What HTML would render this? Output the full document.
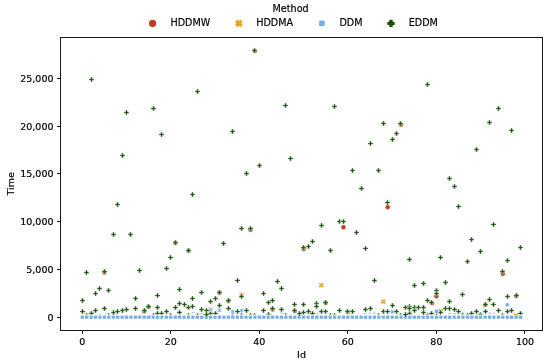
<!DOCTYPE html>
<html lang="en">
<head>
<meta charset="utf-8">
<title>Method scatter plot</title>
<style>
html,body{margin:0;padding:0;background:#fff;}
body{width:550px;height:363px;overflow:hidden;}
svg{display:block;}
svg text{font-family:"DejaVu Sans","Liberation Sans",sans-serif;font-size:9.5px;fill:#000;stroke:#000;stroke-width:0.18px;}
</style>
</head>
<body>
<svg width="550" height="363" viewBox="0 0 550 363">
<rect width="550" height="363" fill="#fff"/>
<g id="markers">
<g id="hddmw"><circle cx="104.38" cy="272.6" r="2.45" fill="#c03d1e" stroke="#fff" stroke-width="0.42"/><circle cx="144.23" cy="311.4" r="2.45" fill="#c03d1e" stroke="#fff" stroke-width="0.42"/><circle cx="148.66" cy="306.9" r="2.45" fill="#c03d1e" stroke="#fff" stroke-width="0.42"/><circle cx="175.22" cy="243.1" r="2.45" fill="#c03d1e" stroke="#fff" stroke-width="0.42"/><circle cx="188.5" cy="250.9" r="2.45" fill="#c03d1e" stroke="#fff" stroke-width="0.42"/><circle cx="219.49" cy="292.8" r="2.45" fill="#c03d1e" stroke="#fff" stroke-width="0.42"/><circle cx="228.34" cy="301.1" r="2.45" fill="#c03d1e" stroke="#fff" stroke-width="0.42"/><circle cx="250.48" cy="229.9" r="2.45" fill="#c03d1e" stroke="#fff" stroke-width="0.42"/><circle cx="254.9" cy="51.1" r="2.45" fill="#c03d1e" stroke="#fff" stroke-width="0.42"/><circle cx="272.61" cy="309.6" r="2.45" fill="#c03d1e" stroke="#fff" stroke-width="0.42"/><circle cx="294.75" cy="311.1" r="2.45" fill="#c03d1e" stroke="#fff" stroke-width="0.42"/><circle cx="303.6" cy="249" r="2.45" fill="#c03d1e" stroke="#fff" stroke-width="0.42"/><circle cx="325.74" cy="303" r="2.45" fill="#c03d1e" stroke="#fff" stroke-width="0.42"/><circle cx="343.44" cy="227.3" r="2.45" fill="#c03d1e" stroke="#fff" stroke-width="0.42"/><circle cx="387.71" cy="207.2" r="2.45" fill="#c03d1e" stroke="#fff" stroke-width="0.42"/><circle cx="400.99" cy="124.7" r="2.45" fill="#c03d1e" stroke="#fff" stroke-width="0.42"/><circle cx="431.98" cy="303.2" r="2.45" fill="#c03d1e" stroke="#fff" stroke-width="0.42"/><circle cx="436.41" cy="296.3" r="2.45" fill="#c03d1e" stroke="#fff" stroke-width="0.42"/><circle cx="485.11" cy="304.9" r="2.45" fill="#c03d1e" stroke="#fff" stroke-width="0.42"/><circle cx="502.81" cy="273.8" r="2.45" fill="#c03d1e" stroke="#fff" stroke-width="0.42"/><circle cx="516.1" cy="296.1" r="2.45" fill="#c03d1e" stroke="#fff" stroke-width="0.42"/></g>
<g id="hddma"><path d="M209.28 306.7 L210.63 308.05 L211.98 306.7 L213.33 308.05 L211.98 309.4 L213.33 310.75 L211.98 312.1 L210.63 310.75 L209.28 312.1 L207.93 310.75 L209.28 309.4 L207.93 308.05Z" fill="#e1a532" stroke="#fff" stroke-width="0.42"/><path d="M240.27 292.5 L241.62 293.85 L242.97 292.5 L244.32 293.85 L242.97 295.2 L244.32 296.55 L242.97 297.9 L241.62 296.55 L240.27 297.9 L238.92 296.55 L240.27 295.2 L238.92 293.85Z" fill="#e1a532" stroke="#fff" stroke-width="0.42"/><path d="M319.96 282.6 L321.31 283.95 L322.66 282.6 L324.01 283.95 L322.66 285.3 L324.01 286.65 L322.66 288 L321.31 286.65 L319.96 288 L318.61 286.65 L319.96 285.3 L318.61 283.95Z" fill="#e1a532" stroke="#fff" stroke-width="0.42"/><path d="M346.52 309.3 L347.87 310.65 L349.22 309.3 L350.57 310.65 L349.22 312 L350.57 313.35 L349.22 314.7 L347.87 313.35 L346.52 314.7 L345.17 313.35 L346.52 312 L345.17 310.65Z" fill="#e1a532" stroke="#fff" stroke-width="0.42"/><path d="M381.94 299 L383.29 300.35 L384.64 299 L385.99 300.35 L384.64 301.7 L385.99 303.05 L384.64 304.4 L383.29 303.05 L381.94 304.4 L380.59 303.05 L381.94 301.7 L380.59 300.35Z" fill="#e1a532" stroke="#fff" stroke-width="0.42"/><path d="M439.49 308.5 L440.84 309.85 L442.19 308.5 L443.54 309.85 L442.19 311.2 L443.54 312.55 L442.19 313.9 L440.84 312.55 L439.49 313.9 L438.14 312.55 L439.49 311.2 L438.14 309.85Z" fill="#e1a532" stroke="#fff" stroke-width="0.42"/><path d="M514.75 312.7 L516.1 314.05 L517.45 312.7 L518.8 314.05 L517.45 315.4 L518.8 316.75 L517.45 318.1 L516.1 316.75 L514.75 318.1 L513.4 316.75 L514.75 315.4 L513.4 314.05Z" fill="#e1a532" stroke="#fff" stroke-width="0.42"/></g>
<clipPath id="cp"><rect x="0" y="0" width="550" height="314.4"/></clipPath>
<g id="eddm-a" clip-path="url(#cp)"><path d="M85.67 313 L87.33 313 L87.33 314.67 L89 314.67 L89 316.33 L87.33 316.33 L87.33 318 L85.67 318 L85.67 316.33 L84 316.33 L84 314.67 L85.67 314.67Z" fill="#145208" stroke="#fff" stroke-width="0.42"/><path d="M90.67 311 L92.33 311 L92.33 312.67 L94 312.67 L94 314.33 L92.33 314.33 L92.33 316 L90.67 316 L90.67 314.33 L89 314.33 L89 312.67 L90.67 312.67Z" fill="#145208" stroke="#fff" stroke-width="0.42"/><path d="M98.67 314 L100.33 314 L100.33 315.67 L102 315.67 L102 317.33 L100.33 317.33 L100.33 319 L98.67 319 L98.67 317.33 L97 317.33 L97 315.67 L98.67 315.67Z" fill="#145208" stroke="#fff" stroke-width="0.42"/><path d="M107.67 313 L109.33 313 L109.33 314.67 L111 314.67 L111 316.33 L109.33 316.33 L109.33 318 L107.67 318 L107.67 316.33 L106 316.33 L106 314.67 L107.67 314.67Z" fill="#145208" stroke="#fff" stroke-width="0.42"/><path d="M152.67 313 L154.33 313 L154.33 314.67 L156 314.67 L156 316.33 L154.33 316.33 L154.33 318 L152.67 318 L152.67 316.33 L151 316.33 L151 314.67 L152.67 314.67Z" fill="#145208" stroke="#fff" stroke-width="0.42"/><path d="M156.67 311 L158.33 311 L158.33 312.67 L160 312.67 L160 314.33 L158.33 314.33 L158.33 316 L156.67 316 L156.67 314.33 L155 314.33 L155 312.67 L156.67 312.67Z" fill="#145208" stroke="#fff" stroke-width="0.42"/><path d="M160.67 311 L162.33 311 L162.33 312.67 L164 312.67 L164 314.33 L162.33 314.33 L162.33 316 L160.67 316 L160.67 314.33 L159 314.33 L159 312.67 L160.67 312.67Z" fill="#145208" stroke="#fff" stroke-width="0.42"/><path d="M169.67 313 L171.33 313 L171.33 314.67 L173 314.67 L173 316.33 L171.33 316.33 L171.33 318 L169.67 318 L169.67 316.33 L168 316.33 L168 314.67 L169.67 314.67Z" fill="#145208" stroke="#fff" stroke-width="0.42"/><path d="M178.67 310 L180.33 310 L180.33 311.67 L182 311.67 L182 313.33 L180.33 313.33 L180.33 315 L178.67 315 L178.67 313.33 L177 313.33 L177 311.67 L178.67 311.67Z" fill="#145208" stroke="#fff" stroke-width="0.42"/><path d="M187.67 313 L189.33 313 L189.33 314.67 L191 314.67 L191 316.33 L189.33 316.33 L189.33 318 L187.67 318 L187.67 316.33 L186 316.33 L186 314.67 L187.67 314.67Z" fill="#145208" stroke="#fff" stroke-width="0.42"/><path d="M196.67 313 L198.33 313 L198.33 314.67 L200 314.67 L200 316.33 L198.33 316.33 L198.33 318 L196.67 318 L196.67 316.33 L195 316.33 L195 314.67 L196.67 314.67Z" fill="#145208" stroke="#fff" stroke-width="0.42"/><path d="M209.67 311 L211.33 311 L211.33 312.67 L213 312.67 L213 314.33 L211.33 314.33 L211.33 316 L209.67 316 L209.67 314.33 L208 314.33 L208 312.67 L209.67 312.67Z" fill="#145208" stroke="#fff" stroke-width="0.42"/><path d="M214.67 311 L216.33 311 L216.33 312.67 L218 312.67 L218 314.33 L216.33 314.33 L216.33 316 L214.67 316 L214.67 314.33 L213 314.33 L213 312.67 L214.67 312.67Z" fill="#145208" stroke="#fff" stroke-width="0.42"/><path d="M231.67 313 L233.33 313 L233.33 314.67 L235 314.67 L235 316.33 L233.33 316.33 L233.33 318 L231.67 318 L231.67 316.33 L230 316.33 L230 314.67 L231.67 314.67Z" fill="#145208" stroke="#fff" stroke-width="0.42"/><path d="M240.67 313 L242.33 313 L242.33 314.67 L244 314.67 L244 316.33 L242.33 316.33 L242.33 318 L240.67 318 L240.67 316.33 L239 316.33 L239 314.67 L240.67 314.67Z" fill="#145208" stroke="#fff" stroke-width="0.42"/><path d="M249.67 313 L251.33 313 L251.33 314.67 L253 314.67 L253 316.33 L251.33 316.33 L251.33 318 L249.67 318 L249.67 316.33 L248 316.33 L248 314.67 L249.67 314.67Z" fill="#145208" stroke="#fff" stroke-width="0.42"/><path d="M253.67 313 L255.33 313 L255.33 314.67 L257 314.67 L257 316.33 L255.33 316.33 L255.33 318 L253.67 318 L253.67 316.33 L252 316.33 L252 314.67 L253.67 314.67Z" fill="#145208" stroke="#fff" stroke-width="0.42"/><path d="M267.67 312 L269.33 312 L269.33 313.67 L271 313.67 L271 315.33 L269.33 315.33 L269.33 317 L267.67 317 L267.67 315.33 L266 315.33 L266 313.67 L267.67 313.67Z" fill="#145208" stroke="#fff" stroke-width="0.42"/><path d="M284.67 313 L286.33 313 L286.33 314.67 L288 314.67 L288 316.33 L286.33 316.33 L286.33 318 L284.67 318 L284.67 316.33 L283 316.33 L283 314.67 L284.67 314.67Z" fill="#145208" stroke="#fff" stroke-width="0.42"/><path d="M302.67 310 L304.33 310 L304.33 311.67 L306 311.67 L306 313.33 L304.33 313.33 L304.33 315 L302.67 315 L302.67 313.33 L301 313.33 L301 311.67 L302.67 311.67Z" fill="#145208" stroke="#fff" stroke-width="0.42"/><path d="M311.67 311 L313.33 311 L313.33 312.67 L315 312.67 L315 314.33 L313.33 314.33 L313.33 316 L311.67 316 L311.67 314.33 L310 314.33 L310 312.67 L311.67 312.67Z" fill="#145208" stroke="#fff" stroke-width="0.42"/><path d="M329.67 313 L331.33 313 L331.33 314.67 L333 314.67 L333 316.33 L331.33 316.33 L331.33 318 L329.67 318 L329.67 316.33 L328 316.33 L328 314.67 L329.67 314.67Z" fill="#145208" stroke="#fff" stroke-width="0.42"/><path d="M333.67 313 L335.33 313 L335.33 314.67 L337 314.67 L337 316.33 L335.33 316.33 L335.33 318 L333.67 318 L333.67 316.33 L332 316.33 L332 314.67 L333.67 314.67Z" fill="#145208" stroke="#fff" stroke-width="0.42"/><path d="M377.67 313 L379.33 313 L379.33 314.67 L381 314.67 L381 316.33 L379.33 316.33 L379.33 318 L377.67 318 L377.67 316.33 L376 316.33 L376 314.67 L377.67 314.67Z" fill="#145208" stroke="#fff" stroke-width="0.42"/><path d="M399.67 313 L401.33 313 L401.33 314.67 L403 314.67 L403 316.33 L401.33 316.33 L401.33 318 L399.67 318 L399.67 316.33 L398 316.33 L398 314.67 L399.67 314.67Z" fill="#145208" stroke="#fff" stroke-width="0.42"/><path d="M408.67 311 L410.33 311 L410.33 312.67 L412 312.67 L412 314.33 L410.33 314.33 L410.33 316 L408.67 316 L408.67 314.33 L407 314.33 L407 312.67 L408.67 312.67Z" fill="#145208" stroke="#fff" stroke-width="0.42"/><path d="M426.67 313 L428.33 313 L428.33 314.67 L430 314.67 L430 316.33 L428.33 316.33 L428.33 318 L426.67 318 L426.67 316.33 L425 316.33 L425 314.67 L426.67 314.67Z" fill="#145208" stroke="#fff" stroke-width="0.42"/><path d="M430.67 311 L432.33 311 L432.33 312.67 L434 312.67 L434 314.33 L432.33 314.33 L432.33 316 L430.67 316 L430.67 314.33 L429 314.33 L429 312.67 L430.67 312.67Z" fill="#145208" stroke="#fff" stroke-width="0.42"/><path d="M435.67 313 L437.33 313 L437.33 314.67 L439 314.67 L439 316.33 L437.33 316.33 L437.33 318 L435.67 318 L435.67 316.33 L434 316.33 L434 314.67 L435.67 314.67Z" fill="#145208" stroke="#fff" stroke-width="0.42"/><path d="M439.67 310 L441.33 310 L441.33 311.67 L443 311.67 L443 313.33 L441.33 313.33 L441.33 315 L439.67 315 L439.67 313.33 L438 313.33 L438 311.67 L439.67 311.67Z" fill="#145208" stroke="#fff" stroke-width="0.42"/><path d="M461.67 313 L463.33 313 L463.33 314.67 L465 314.67 L465 316.33 L463.33 316.33 L463.33 318 L461.67 318 L461.67 316.33 L460 316.33 L460 314.67 L461.67 314.67Z" fill="#145208" stroke="#fff" stroke-width="0.42"/><path d="M466.67 313 L468.33 313 L468.33 314.67 L470 314.67 L470 316.33 L468.33 316.33 L468.33 318 L466.67 318 L466.67 316.33 L465 316.33 L465 314.67 L466.67 314.67Z" fill="#145208" stroke="#fff" stroke-width="0.42"/><path d="M470.67 311 L472.33 311 L472.33 312.67 L474 312.67 L474 314.33 L472.33 314.33 L472.33 316 L470.67 316 L470.67 314.33 L469 314.33 L469 312.67 L470.67 312.67Z" fill="#145208" stroke="#fff" stroke-width="0.42"/><path d="M479.67 312 L481.33 312 L481.33 313.67 L483 313.67 L483 315.33 L481.33 315.33 L481.33 317 L479.67 317 L479.67 315.33 L478 315.33 L478 313.67 L479.67 313.67Z" fill="#145208" stroke="#fff" stroke-width="0.42"/><path d="M501.67 313 L503.33 313 L503.33 314.67 L505 314.67 L505 316.33 L503.33 316.33 L503.33 318 L501.67 318 L501.67 316.33 L500 316.33 L500 314.67 L501.67 314.67Z" fill="#145208" stroke="#fff" stroke-width="0.42"/><path d="M519.67 311 L521.33 311 L521.33 312.67 L523 312.67 L523 314.33 L521.33 314.33 L521.33 316 L519.67 316 L519.67 314.33 L518 314.33 L518 312.67 L519.67 312.67Z" fill="#145208" stroke="#fff" stroke-width="0.42"/></g>
<g id="ddm-a"><rect x="230.92" y="309.65" width="3.7" height="3.7" fill="#8fbbea" stroke="#fff" stroke-width="0.42"/></g>
<g id="ddm-c" fill="#a6c9ee"><rect x="191.42" y="311.95" width="3" height="1.1"/><rect x="200.28" y="312.85" width="3" height="1.1"/><rect x="279.96" y="312.45" width="3" height="1.1"/><rect x="315.38" y="312.75" width="3" height="1.1"/><rect x="364.08" y="312.95" width="3" height="1.1"/><rect x="368.5" y="312.65" width="3" height="1.1"/><rect x="372.93" y="312.65" width="3" height="1.1"/><rect x="448.19" y="312.95" width="3" height="1.1"/><rect x="452.62" y="312.95" width="3" height="1.1"/><rect x="461.47" y="311.65" width="3" height="1.1"/><rect x="479.18" y="312.45" width="3" height="1.1"/><rect x="488.03" y="312.65" width="3" height="1.1"/><rect x="492.46" y="312.75" width="3" height="1.1"/></g>
<g id="ddm"><rect x="80.4" y="315.3" width="3.7" height="3.7" fill="#76ade5" stroke="#fff" stroke-width="0.42"/><rect x="84.83" y="315.3" width="3.7" height="3.7" fill="#76ade5" stroke="#fff" stroke-width="0.42"/><rect x="89.25" y="315.3" width="3.7" height="3.7" fill="#76ade5" stroke="#fff" stroke-width="0.42"/><rect x="93.68" y="315.3" width="3.7" height="3.7" fill="#76ade5" stroke="#fff" stroke-width="0.42"/><rect x="98.11" y="315.3" width="3.7" height="3.7" fill="#76ade5" stroke="#fff" stroke-width="0.42"/><rect x="102.53" y="315.3" width="3.7" height="3.7" fill="#76ade5" stroke="#fff" stroke-width="0.42"/><rect x="106.96" y="315.3" width="3.7" height="3.7" fill="#76ade5" stroke="#fff" stroke-width="0.42"/><rect x="111.39" y="315.3" width="3.7" height="3.7" fill="#76ade5" stroke="#fff" stroke-width="0.42"/><rect x="115.82" y="315.3" width="3.7" height="3.7" fill="#76ade5" stroke="#fff" stroke-width="0.42"/><rect x="120.24" y="315.3" width="3.7" height="3.7" fill="#76ade5" stroke="#fff" stroke-width="0.42"/><rect x="124.67" y="315.3" width="3.7" height="3.7" fill="#76ade5" stroke="#fff" stroke-width="0.42"/><rect x="129.1" y="315.3" width="3.7" height="3.7" fill="#76ade5" stroke="#fff" stroke-width="0.42"/><rect x="133.52" y="315.3" width="3.7" height="3.7" fill="#76ade5" stroke="#fff" stroke-width="0.42"/><rect x="137.95" y="315.3" width="3.7" height="3.7" fill="#76ade5" stroke="#fff" stroke-width="0.42"/><rect x="142.38" y="315.3" width="3.7" height="3.7" fill="#76ade5" stroke="#fff" stroke-width="0.42"/><rect x="146.81" y="315.3" width="3.7" height="3.7" fill="#76ade5" stroke="#fff" stroke-width="0.42"/><rect x="151.23" y="315.3" width="3.7" height="3.7" fill="#76ade5" stroke="#fff" stroke-width="0.42"/><rect x="155.66" y="315.3" width="3.7" height="3.7" fill="#76ade5" stroke="#fff" stroke-width="0.42"/><rect x="160.09" y="315.3" width="3.7" height="3.7" fill="#76ade5" stroke="#fff" stroke-width="0.42"/><rect x="164.51" y="315.3" width="3.7" height="3.7" fill="#76ade5" stroke="#fff" stroke-width="0.42"/><rect x="168.94" y="315.3" width="3.7" height="3.7" fill="#76ade5" stroke="#fff" stroke-width="0.42"/><rect x="173.37" y="315.3" width="3.7" height="3.7" fill="#76ade5" stroke="#fff" stroke-width="0.42"/><rect x="177.79" y="315.3" width="3.7" height="3.7" fill="#76ade5" stroke="#fff" stroke-width="0.42"/><rect x="182.22" y="315.3" width="3.7" height="3.7" fill="#76ade5" stroke="#fff" stroke-width="0.42"/><rect x="186.65" y="315.3" width="3.7" height="3.7" fill="#76ade5" stroke="#fff" stroke-width="0.42"/><rect x="191.07" y="315.3" width="3.7" height="3.7" fill="#76ade5" stroke="#fff" stroke-width="0.42"/><rect x="195.5" y="315.3" width="3.7" height="3.7" fill="#76ade5" stroke="#fff" stroke-width="0.42"/><rect x="199.93" y="315.3" width="3.7" height="3.7" fill="#76ade5" stroke="#fff" stroke-width="0.42"/><rect x="204.36" y="315.3" width="3.7" height="3.7" fill="#76ade5" stroke="#fff" stroke-width="0.42"/><rect x="208.78" y="315.3" width="3.7" height="3.7" fill="#76ade5" stroke="#fff" stroke-width="0.42"/><rect x="213.21" y="315.3" width="3.7" height="3.7" fill="#76ade5" stroke="#fff" stroke-width="0.42"/><rect x="217.64" y="315.3" width="3.7" height="3.7" fill="#76ade5" stroke="#fff" stroke-width="0.42"/><rect x="222.06" y="315.3" width="3.7" height="3.7" fill="#76ade5" stroke="#fff" stroke-width="0.42"/><rect x="226.49" y="315.3" width="3.7" height="3.7" fill="#76ade5" stroke="#fff" stroke-width="0.42"/><rect x="230.92" y="315.3" width="3.7" height="3.7" fill="#76ade5" stroke="#fff" stroke-width="0.42"/><rect x="235.34" y="315.3" width="3.7" height="3.7" fill="#76ade5" stroke="#fff" stroke-width="0.42"/><rect x="239.77" y="315.3" width="3.7" height="3.7" fill="#76ade5" stroke="#fff" stroke-width="0.42"/><rect x="244.2" y="315.3" width="3.7" height="3.7" fill="#76ade5" stroke="#fff" stroke-width="0.42"/><rect x="248.63" y="315.3" width="3.7" height="3.7" fill="#76ade5" stroke="#fff" stroke-width="0.42"/><rect x="253.05" y="315.3" width="3.7" height="3.7" fill="#76ade5" stroke="#fff" stroke-width="0.42"/><rect x="257.48" y="315.3" width="3.7" height="3.7" fill="#76ade5" stroke="#fff" stroke-width="0.42"/><rect x="261.91" y="315.3" width="3.7" height="3.7" fill="#76ade5" stroke="#fff" stroke-width="0.42"/><rect x="266.33" y="315.3" width="3.7" height="3.7" fill="#76ade5" stroke="#fff" stroke-width="0.42"/><rect x="270.76" y="315.3" width="3.7" height="3.7" fill="#76ade5" stroke="#fff" stroke-width="0.42"/><rect x="275.19" y="315.3" width="3.7" height="3.7" fill="#76ade5" stroke="#fff" stroke-width="0.42"/><rect x="279.61" y="315.3" width="3.7" height="3.7" fill="#76ade5" stroke="#fff" stroke-width="0.42"/><rect x="284.04" y="315.3" width="3.7" height="3.7" fill="#76ade5" stroke="#fff" stroke-width="0.42"/><rect x="288.47" y="315.3" width="3.7" height="3.7" fill="#76ade5" stroke="#fff" stroke-width="0.42"/><rect x="292.9" y="315.3" width="3.7" height="3.7" fill="#76ade5" stroke="#fff" stroke-width="0.42"/><rect x="297.32" y="315.3" width="3.7" height="3.7" fill="#76ade5" stroke="#fff" stroke-width="0.42"/><rect x="301.75" y="315.3" width="3.7" height="3.7" fill="#76ade5" stroke="#fff" stroke-width="0.42"/><rect x="306.18" y="315.3" width="3.7" height="3.7" fill="#76ade5" stroke="#fff" stroke-width="0.42"/><rect x="310.6" y="315.3" width="3.7" height="3.7" fill="#76ade5" stroke="#fff" stroke-width="0.42"/><rect x="315.03" y="315.3" width="3.7" height="3.7" fill="#76ade5" stroke="#fff" stroke-width="0.42"/><rect x="319.46" y="315.3" width="3.7" height="3.7" fill="#76ade5" stroke="#fff" stroke-width="0.42"/><rect x="323.88" y="315.3" width="3.7" height="3.7" fill="#76ade5" stroke="#fff" stroke-width="0.42"/><rect x="328.31" y="315.3" width="3.7" height="3.7" fill="#76ade5" stroke="#fff" stroke-width="0.42"/><rect x="332.74" y="315.3" width="3.7" height="3.7" fill="#76ade5" stroke="#fff" stroke-width="0.42"/><rect x="337.17" y="315.3" width="3.7" height="3.7" fill="#76ade5" stroke="#fff" stroke-width="0.42"/><rect x="341.59" y="315.3" width="3.7" height="3.7" fill="#76ade5" stroke="#fff" stroke-width="0.42"/><rect x="346.02" y="315.3" width="3.7" height="3.7" fill="#76ade5" stroke="#fff" stroke-width="0.42"/><rect x="350.45" y="315.3" width="3.7" height="3.7" fill="#76ade5" stroke="#fff" stroke-width="0.42"/><rect x="354.87" y="315.3" width="3.7" height="3.7" fill="#76ade5" stroke="#fff" stroke-width="0.42"/><rect x="359.3" y="315.3" width="3.7" height="3.7" fill="#76ade5" stroke="#fff" stroke-width="0.42"/><rect x="363.73" y="315.3" width="3.7" height="3.7" fill="#76ade5" stroke="#fff" stroke-width="0.42"/><rect x="368.15" y="315.3" width="3.7" height="3.7" fill="#76ade5" stroke="#fff" stroke-width="0.42"/><rect x="372.58" y="315.3" width="3.7" height="3.7" fill="#76ade5" stroke="#fff" stroke-width="0.42"/><rect x="377.01" y="315.3" width="3.7" height="3.7" fill="#76ade5" stroke="#fff" stroke-width="0.42"/><rect x="381.44" y="315.3" width="3.7" height="3.7" fill="#76ade5" stroke="#fff" stroke-width="0.42"/><rect x="385.86" y="315.3" width="3.7" height="3.7" fill="#76ade5" stroke="#fff" stroke-width="0.42"/><rect x="390.29" y="315.3" width="3.7" height="3.7" fill="#76ade5" stroke="#fff" stroke-width="0.42"/><rect x="394.72" y="315.3" width="3.7" height="3.7" fill="#76ade5" stroke="#fff" stroke-width="0.42"/><rect x="399.14" y="315.3" width="3.7" height="3.7" fill="#76ade5" stroke="#fff" stroke-width="0.42"/><rect x="403.57" y="315.3" width="3.7" height="3.7" fill="#76ade5" stroke="#fff" stroke-width="0.42"/><rect x="408" y="315.3" width="3.7" height="3.7" fill="#76ade5" stroke="#fff" stroke-width="0.42"/><rect x="412.42" y="315.3" width="3.7" height="3.7" fill="#76ade5" stroke="#fff" stroke-width="0.42"/><rect x="416.85" y="315.3" width="3.7" height="3.7" fill="#76ade5" stroke="#fff" stroke-width="0.42"/><rect x="421.28" y="315.3" width="3.7" height="3.7" fill="#76ade5" stroke="#fff" stroke-width="0.42"/><rect x="425.71" y="315.3" width="3.7" height="3.7" fill="#76ade5" stroke="#fff" stroke-width="0.42"/><rect x="430.13" y="315.3" width="3.7" height="3.7" fill="#76ade5" stroke="#fff" stroke-width="0.42"/><rect x="434.56" y="315.3" width="3.7" height="3.7" fill="#76ade5" stroke="#fff" stroke-width="0.42"/><rect x="438.99" y="315.3" width="3.7" height="3.7" fill="#76ade5" stroke="#fff" stroke-width="0.42"/><rect x="443.41" y="315.3" width="3.7" height="3.7" fill="#76ade5" stroke="#fff" stroke-width="0.42"/><rect x="447.84" y="315.3" width="3.7" height="3.7" fill="#76ade5" stroke="#fff" stroke-width="0.42"/><rect x="452.27" y="315.3" width="3.7" height="3.7" fill="#76ade5" stroke="#fff" stroke-width="0.42"/><rect x="456.69" y="315.3" width="3.7" height="3.7" fill="#76ade5" stroke="#fff" stroke-width="0.42"/><rect x="461.12" y="315.3" width="3.7" height="3.7" fill="#76ade5" stroke="#fff" stroke-width="0.42"/><rect x="465.55" y="315.3" width="3.7" height="3.7" fill="#76ade5" stroke="#fff" stroke-width="0.42"/><rect x="469.98" y="315.3" width="3.7" height="3.7" fill="#76ade5" stroke="#fff" stroke-width="0.42"/><rect x="474.4" y="315.3" width="3.7" height="3.7" fill="#76ade5" stroke="#fff" stroke-width="0.42"/><rect x="478.83" y="315.3" width="3.7" height="3.7" fill="#76ade5" stroke="#fff" stroke-width="0.42"/><rect x="483.26" y="315.3" width="3.7" height="3.7" fill="#76ade5" stroke="#fff" stroke-width="0.42"/><rect x="487.68" y="315.3" width="3.7" height="3.7" fill="#76ade5" stroke="#fff" stroke-width="0.42"/><rect x="492.11" y="315.3" width="3.7" height="3.7" fill="#76ade5" stroke="#fff" stroke-width="0.42"/><rect x="496.54" y="315.3" width="3.7" height="3.7" fill="#76ade5" stroke="#fff" stroke-width="0.42"/><rect x="500.96" y="315.3" width="3.7" height="3.7" fill="#76ade5" stroke="#fff" stroke-width="0.42"/><rect x="505.39" y="315.3" width="3.7" height="3.7" fill="#76ade5" stroke="#fff" stroke-width="0.42"/><rect x="509.82" y="315.3" width="3.7" height="3.7" fill="#76ade5" stroke="#fff" stroke-width="0.42"/><rect x="514.25" y="315.3" width="3.7" height="3.7" fill="#76ade5" stroke="#fff" stroke-width="0.42"/><rect x="518.67" y="315.3" width="3.7" height="3.7" fill="#76ade5" stroke="#fff" stroke-width="0.42"/></g>
<g id="ddm-b"><rect x="208.78" y="308.15" width="3.7" height="3.7" fill="#8fbbea" stroke="#fff" stroke-width="0.42"/><rect x="217.64" y="308.35" width="3.7" height="3.7" fill="#8fbbea" stroke="#fff" stroke-width="0.42"/><rect x="239.77" y="308.85" width="3.7" height="3.7" fill="#8fbbea" stroke="#fff" stroke-width="0.42"/><rect x="390.29" y="310.05" width="3.7" height="3.7" fill="#76ade5" stroke="#fff" stroke-width="0.42"/><rect x="434.56" y="309.45" width="3.7" height="3.7" fill="#76ade5" stroke="#fff" stroke-width="0.42"/><rect x="505.39" y="303.05" width="3.7" height="3.7" fill="#76ade5" stroke="#fff" stroke-width="0.42"/></g>
<g id="eddm"><path d="M81.67 298 L83.33 298 L83.33 299.67 L85 299.67 L85 301.33 L83.33 301.33 L83.33 303 L81.67 303 L81.67 301.33 L80 301.33 L80 299.67 L81.67 299.67Z" fill="#145208" stroke="#fff" stroke-width="0.42"/><path d="M81.67 309 L83.33 309 L83.33 310.67 L85 310.67 L85 312.33 L83.33 312.33 L83.33 314 L81.67 314 L81.67 312.33 L80 312.33 L80 310.67 L81.67 310.67Z" fill="#145208" stroke="#fff" stroke-width="0.42"/><path d="M85.67 270 L87.33 270 L87.33 271.67 L89 271.67 L89 273.33 L87.33 273.33 L87.33 275 L85.67 275 L85.67 273.33 L84 273.33 L84 271.67 L85.67 271.67Z" fill="#145208" stroke="#fff" stroke-width="0.42"/><path d="M90.67 77 L92.33 77 L92.33 78.67 L94 78.67 L94 80.33 L92.33 80.33 L92.33 82 L90.67 82 L90.67 80.33 L89 80.33 L89 78.67 L90.67 78.67Z" fill="#145208" stroke="#fff" stroke-width="0.42"/><path d="M94.67 291 L96.33 291 L96.33 292.67 L98 292.67 L98 294.33 L96.33 294.33 L96.33 296 L94.67 296 L94.67 294.33 L93 294.33 L93 292.67 L94.67 292.67Z" fill="#145208" stroke="#fff" stroke-width="0.42"/><path d="M94.67 308 L96.33 308 L96.33 309.67 L98 309.67 L98 311.33 L96.33 311.33 L96.33 313 L94.67 313 L94.67 311.33 L93 311.33 L93 309.67 L94.67 309.67Z" fill="#145208" stroke="#fff" stroke-width="0.42"/><path d="M98.67 286 L100.33 286 L100.33 287.67 L102 287.67 L102 289.33 L100.33 289.33 L100.33 291 L98.67 291 L98.67 289.33 L97 289.33 L97 287.67 L98.67 287.67Z" fill="#145208" stroke="#fff" stroke-width="0.42"/><path d="M103.67 269 L105.33 269 L105.33 270.67 L107 270.67 L107 272.33 L105.33 272.33 L105.33 274 L103.67 274 L103.67 272.33 L102 272.33 L102 270.67 L103.67 270.67Z" fill="#145208" stroke="#fff" stroke-width="0.42"/><path d="M103.67 306 L105.33 306 L105.33 307.67 L107 307.67 L107 309.33 L105.33 309.33 L105.33 311 L103.67 311 L103.67 309.33 L102 309.33 L102 307.67 L103.67 307.67Z" fill="#145208" stroke="#fff" stroke-width="0.42"/><path d="M107.67 288 L109.33 288 L109.33 289.67 L111 289.67 L111 291.33 L109.33 291.33 L109.33 293 L107.67 293 L107.67 291.33 L106 291.33 L106 289.67 L107.67 289.67Z" fill="#145208" stroke="#fff" stroke-width="0.42"/><path d="M112.67 232 L114.33 232 L114.33 233.67 L116 233.67 L116 235.33 L114.33 235.33 L114.33 237 L112.67 237 L112.67 235.33 L111 235.33 L111 233.67 L112.67 233.67Z" fill="#145208" stroke="#fff" stroke-width="0.42"/><path d="M112.67 310 L114.33 310 L114.33 311.67 L116 311.67 L116 313.33 L114.33 313.33 L114.33 315 L112.67 315 L112.67 313.33 L111 313.33 L111 311.67 L112.67 311.67Z" fill="#145208" stroke="#fff" stroke-width="0.42"/><path d="M116.67 202 L118.33 202 L118.33 203.67 L120 203.67 L120 205.33 L118.33 205.33 L118.33 207 L116.67 207 L116.67 205.33 L115 205.33 L115 203.67 L116.67 203.67Z" fill="#145208" stroke="#fff" stroke-width="0.42"/><path d="M116.67 309 L118.33 309 L118.33 310.67 L120 310.67 L120 312.33 L118.33 312.33 L118.33 314 L116.67 314 L116.67 312.33 L115 312.33 L115 310.67 L116.67 310.67Z" fill="#145208" stroke="#fff" stroke-width="0.42"/><path d="M121.67 153 L123.33 153 L123.33 154.67 L125 154.67 L125 156.33 L123.33 156.33 L123.33 158 L121.67 158 L121.67 156.33 L120 156.33 L120 154.67 L121.67 154.67Z" fill="#145208" stroke="#fff" stroke-width="0.42"/><path d="M121.67 308 L123.33 308 L123.33 309.67 L125 309.67 L125 311.33 L123.33 311.33 L123.33 313 L121.67 313 L121.67 311.33 L120 311.33 L120 309.67 L121.67 309.67Z" fill="#145208" stroke="#fff" stroke-width="0.42"/><path d="M125.67 110 L127.33 110 L127.33 111.67 L129 111.67 L129 113.33 L127.33 113.33 L127.33 115 L125.67 115 L125.67 113.33 L124 113.33 L124 111.67 L125.67 111.67Z" fill="#145208" stroke="#fff" stroke-width="0.42"/><path d="M125.67 307 L127.33 307 L127.33 308.67 L129 308.67 L129 310.33 L127.33 310.33 L127.33 312 L125.67 312 L125.67 310.33 L124 310.33 L124 308.67 L125.67 308.67Z" fill="#145208" stroke="#fff" stroke-width="0.42"/><path d="M129.67 232 L131.33 232 L131.33 233.67 L133 233.67 L133 235.33 L131.33 235.33 L131.33 237 L129.67 237 L129.67 235.33 L128 235.33 L128 233.67 L129.67 233.67Z" fill="#145208" stroke="#fff" stroke-width="0.42"/><path d="M134.67 296 L136.33 296 L136.33 297.67 L138 297.67 L138 299.33 L136.33 299.33 L136.33 301 L134.67 301 L134.67 299.33 L133 299.33 L133 297.67 L134.67 297.67Z" fill="#145208" stroke="#fff" stroke-width="0.42"/><path d="M134.67 306 L136.33 306 L136.33 307.67 L138 307.67 L138 309.33 L136.33 309.33 L136.33 311 L134.67 311 L134.67 309.33 L133 309.33 L133 307.67 L134.67 307.67Z" fill="#145208" stroke="#fff" stroke-width="0.42"/><path d="M138.67 268 L140.33 268 L140.33 269.67 L142 269.67 L142 271.33 L140.33 271.33 L140.33 273 L138.67 273 L138.67 271.33 L137 271.33 L137 269.67 L138.67 269.67Z" fill="#145208" stroke="#fff" stroke-width="0.42"/><path d="M143.67 308 L145.33 308 L145.33 309.67 L147 309.67 L147 311.33 L145.33 311.33 L145.33 313 L143.67 313 L143.67 311.33 L142 311.33 L142 309.67 L143.67 309.67Z" fill="#145208" stroke="#fff" stroke-width="0.42"/><path d="M147.67 304 L149.33 304 L149.33 305.67 L151 305.67 L151 307.33 L149.33 307.33 L149.33 309 L147.67 309 L147.67 307.33 L146 307.33 L146 305.67 L147.67 305.67Z" fill="#145208" stroke="#fff" stroke-width="0.42"/><path d="M152.67 106 L154.33 106 L154.33 107.67 L156 107.67 L156 109.33 L154.33 109.33 L154.33 111 L152.67 111 L152.67 109.33 L151 109.33 L151 107.67 L152.67 107.67Z" fill="#145208" stroke="#fff" stroke-width="0.42"/><path d="M156.67 293 L158.33 293 L158.33 294.67 L160 294.67 L160 296.33 L158.33 296.33 L158.33 298 L156.67 298 L156.67 296.33 L155 296.33 L155 294.67 L156.67 294.67Z" fill="#145208" stroke="#fff" stroke-width="0.42"/><path d="M156.67 305 L158.33 305 L158.33 306.67 L160 306.67 L160 308.33 L158.33 308.33 L158.33 310 L156.67 310 L156.67 308.33 L155 308.33 L155 306.67 L156.67 306.67Z" fill="#145208" stroke="#fff" stroke-width="0.42"/><path d="M160.67 132 L162.33 132 L162.33 133.67 L164 133.67 L164 135.33 L162.33 135.33 L162.33 137 L160.67 137 L160.67 135.33 L159 135.33 L159 133.67 L160.67 133.67Z" fill="#145208" stroke="#fff" stroke-width="0.42"/><path d="M165.67 266 L167.33 266 L167.33 267.67 L169 267.67 L169 269.33 L167.33 269.33 L167.33 271 L165.67 271 L165.67 269.33 L164 269.33 L164 267.67 L165.67 267.67Z" fill="#145208" stroke="#fff" stroke-width="0.42"/><path d="M165.67 309 L167.33 309 L167.33 310.67 L169 310.67 L169 312.33 L167.33 312.33 L167.33 314 L165.67 314 L165.67 312.33 L164 312.33 L164 310.67 L165.67 310.67Z" fill="#145208" stroke="#fff" stroke-width="0.42"/><path d="M169.67 255 L171.33 255 L171.33 256.67 L173 256.67 L173 258.33 L171.33 258.33 L171.33 260 L169.67 260 L169.67 258.33 L168 258.33 L168 256.67 L169.67 256.67Z" fill="#145208" stroke="#fff" stroke-width="0.42"/><path d="M174.67 240 L176.33 240 L176.33 241.67 L178 241.67 L178 243.33 L176.33 243.33 L176.33 245 L174.67 245 L174.67 243.33 L173 243.33 L173 241.67 L174.67 241.67Z" fill="#145208" stroke="#fff" stroke-width="0.42"/><path d="M174.67 305 L176.33 305 L176.33 306.67 L178 306.67 L178 308.33 L176.33 308.33 L176.33 310 L174.67 310 L174.67 308.33 L173 308.33 L173 306.67 L174.67 306.67Z" fill="#145208" stroke="#fff" stroke-width="0.42"/><path d="M178.67 287 L180.33 287 L180.33 288.67 L182 288.67 L182 290.33 L180.33 290.33 L180.33 292 L178.67 292 L178.67 290.33 L177 290.33 L177 288.67 L178.67 288.67Z" fill="#145208" stroke="#fff" stroke-width="0.42"/><path d="M178.67 301 L180.33 301 L180.33 302.67 L182 302.67 L182 304.33 L180.33 304.33 L180.33 306 L178.67 306 L178.67 304.33 L177 304.33 L177 302.67 L178.67 302.67Z" fill="#145208" stroke="#fff" stroke-width="0.42"/><path d="M183.67 302 L185.33 302 L185.33 303.67 L187 303.67 L187 305.33 L185.33 305.33 L185.33 307 L183.67 307 L183.67 305.33 L182 305.33 L182 303.67 L183.67 303.67Z" fill="#145208" stroke="#fff" stroke-width="0.42"/><path d="M187.67 248 L189.33 248 L189.33 249.67 L191 249.67 L191 251.33 L189.33 251.33 L189.33 253 L187.67 253 L187.67 251.33 L186 251.33 L186 249.67 L187.67 249.67Z" fill="#145208" stroke="#fff" stroke-width="0.42"/><path d="M187.67 305 L189.33 305 L189.33 306.67 L191 306.67 L191 308.33 L189.33 308.33 L189.33 310 L187.67 310 L187.67 308.33 L186 308.33 L186 306.67 L187.67 306.67Z" fill="#145208" stroke="#fff" stroke-width="0.42"/><path d="M191.67 192 L193.33 192 L193.33 193.67 L195 193.67 L195 195.33 L193.33 195.33 L193.33 197 L191.67 197 L191.67 195.33 L190 195.33 L190 193.67 L191.67 193.67Z" fill="#145208" stroke="#fff" stroke-width="0.42"/><path d="M191.67 296 L193.33 296 L193.33 297.67 L195 297.67 L195 299.33 L193.33 299.33 L193.33 301 L191.67 301 L191.67 299.33 L190 299.33 L190 297.67 L191.67 297.67Z" fill="#145208" stroke="#fff" stroke-width="0.42"/><path d="M191.67 304 L193.33 304 L193.33 305.67 L195 305.67 L195 307.33 L193.33 307.33 L193.33 309 L191.67 309 L191.67 307.33 L190 307.33 L190 305.67 L191.67 305.67Z" fill="#145208" stroke="#fff" stroke-width="0.42"/><path d="M196.67 89 L198.33 89 L198.33 90.67 L200 90.67 L200 92.33 L198.33 92.33 L198.33 94 L196.67 94 L196.67 92.33 L195 92.33 L195 90.67 L196.67 90.67Z" fill="#145208" stroke="#fff" stroke-width="0.42"/><path d="M200.67 290 L202.33 290 L202.33 291.67 L204 291.67 L204 293.33 L202.33 293.33 L202.33 295 L200.67 295 L200.67 293.33 L199 293.33 L199 291.67 L200.67 291.67Z" fill="#145208" stroke="#fff" stroke-width="0.42"/><path d="M200.67 307 L202.33 307 L202.33 308.67 L204 308.67 L204 310.33 L202.33 310.33 L202.33 312 L200.67 312 L200.67 310.33 L199 310.33 L199 308.67 L200.67 308.67Z" fill="#145208" stroke="#fff" stroke-width="0.42"/><path d="M205.67 308 L207.33 308 L207.33 309.67 L209 309.67 L209 311.33 L207.33 311.33 L207.33 313 L205.67 313 L205.67 311.33 L204 311.33 L204 309.67 L205.67 309.67Z" fill="#145208" stroke="#fff" stroke-width="0.42"/><path d="M205.67 312 L207.33 312 L207.33 313.67 L209 313.67 L209 315.33 L207.33 315.33 L207.33 317 L205.67 317 L205.67 315.33 L204 315.33 L204 313.67 L205.67 313.67Z" fill="#145208" stroke="#fff" stroke-width="0.42"/><path d="M209.67 299 L211.33 299 L211.33 300.67 L213 300.67 L213 302.33 L211.33 302.33 L211.33 304 L209.67 304 L209.67 302.33 L208 302.33 L208 300.67 L209.67 300.67Z" fill="#145208" stroke="#fff" stroke-width="0.42"/><path d="M214.67 296 L216.33 296 L216.33 297.67 L218 297.67 L218 299.33 L216.33 299.33 L216.33 301 L214.67 301 L214.67 299.33 L213 299.33 L213 297.67 L214.67 297.67Z" fill="#145208" stroke="#fff" stroke-width="0.42"/><path d="M218.67 290 L220.33 290 L220.33 291.67 L222 291.67 L222 293.33 L220.33 293.33 L220.33 295 L218.67 295 L218.67 293.33 L217 293.33 L217 291.67 L218.67 291.67Z" fill="#145208" stroke="#fff" stroke-width="0.42"/><path d="M218.67 303 L220.33 303 L220.33 304.67 L222 304.67 L222 306.33 L220.33 306.33 L220.33 308 L218.67 308 L218.67 306.33 L217 306.33 L217 304.67 L218.67 304.67Z" fill="#145208" stroke="#fff" stroke-width="0.42"/><path d="M222.67 241 L224.33 241 L224.33 242.67 L226 242.67 L226 244.33 L224.33 244.33 L224.33 246 L222.67 246 L222.67 244.33 L221 244.33 L221 242.67 L222.67 242.67Z" fill="#145208" stroke="#fff" stroke-width="0.42"/><path d="M227.67 298 L229.33 298 L229.33 299.67 L231 299.67 L231 301.33 L229.33 301.33 L229.33 303 L227.67 303 L227.67 301.33 L226 301.33 L226 299.67 L227.67 299.67Z" fill="#145208" stroke="#fff" stroke-width="0.42"/><path d="M227.67 306 L229.33 306 L229.33 307.67 L231 307.67 L231 309.33 L229.33 309.33 L229.33 311 L227.67 311 L227.67 309.33 L226 309.33 L226 307.67 L227.67 307.67Z" fill="#145208" stroke="#fff" stroke-width="0.42"/><path d="M231.67 129 L233.33 129 L233.33 130.67 L235 130.67 L235 132.33 L233.33 132.33 L233.33 134 L231.67 134 L231.67 132.33 L230 132.33 L230 130.67 L231.67 130.67Z" fill="#145208" stroke="#fff" stroke-width="0.42"/><path d="M236.67 278 L238.33 278 L238.33 279.67 L240 279.67 L240 281.33 L238.33 281.33 L238.33 283 L236.67 283 L236.67 281.33 L235 281.33 L235 279.67 L236.67 279.67Z" fill="#145208" stroke="#fff" stroke-width="0.42"/><path d="M236.67 309 L238.33 309 L238.33 310.67 L240 310.67 L240 312.33 L238.33 312.33 L238.33 314 L236.67 314 L236.67 312.33 L235 312.33 L235 310.67 L236.67 310.67Z" fill="#145208" stroke="#fff" stroke-width="0.42"/><path d="M240.67 226 L242.33 226 L242.33 227.67 L244 227.67 L244 229.33 L242.33 229.33 L242.33 231 L240.67 231 L240.67 229.33 L239 229.33 L239 227.67 L240.67 227.67Z" fill="#145208" stroke="#fff" stroke-width="0.42"/><path d="M240.67 294 L242.33 294 L242.33 295.67 L244 295.67 L244 297.33 L242.33 297.33 L242.33 299 L240.67 299 L240.67 297.33 L239 297.33 L239 295.67 L240.67 295.67Z" fill="#145208" stroke="#fff" stroke-width="0.42"/><path d="M245.67 171 L247.33 171 L247.33 172.67 L249 172.67 L249 174.33 L247.33 174.33 L247.33 176 L245.67 176 L245.67 174.33 L244 174.33 L244 172.67 L245.67 172.67Z" fill="#145208" stroke="#fff" stroke-width="0.42"/><path d="M245.67 308 L247.33 308 L247.33 309.67 L249 309.67 L249 311.33 L247.33 311.33 L247.33 313 L245.67 313 L245.67 311.33 L244 311.33 L244 309.67 L245.67 309.67Z" fill="#145208" stroke="#fff" stroke-width="0.42"/><path d="M249.67 226 L251.33 226 L251.33 227.67 L253 227.67 L253 229.33 L251.33 229.33 L251.33 231 L249.67 231 L249.67 229.33 L248 229.33 L248 227.67 L249.67 227.67Z" fill="#145208" stroke="#fff" stroke-width="0.42"/><path d="M253.67 48 L255.33 48 L255.33 49.67 L257 49.67 L257 51.33 L255.33 51.33 L255.33 53 L253.67 53 L253.67 51.33 L252 51.33 L252 49.67 L253.67 49.67Z" fill="#145208" stroke="#fff" stroke-width="0.42"/><path d="M258.67 163 L260.33 163 L260.33 164.67 L262 164.67 L262 166.33 L260.33 166.33 L260.33 168 L258.67 168 L258.67 166.33 L257 166.33 L257 164.67 L258.67 164.67Z" fill="#145208" stroke="#fff" stroke-width="0.42"/><path d="M262.67 291 L264.33 291 L264.33 292.67 L266 292.67 L266 294.33 L264.33 294.33 L264.33 296 L262.67 296 L262.67 294.33 L261 294.33 L261 292.67 L262.67 292.67Z" fill="#145208" stroke="#fff" stroke-width="0.42"/><path d="M262.67 308 L264.33 308 L264.33 309.67 L266 309.67 L266 311.33 L264.33 311.33 L264.33 313 L262.67 313 L262.67 311.33 L261 311.33 L261 309.67 L262.67 309.67Z" fill="#145208" stroke="#fff" stroke-width="0.42"/><path d="M267.67 300 L269.33 300 L269.33 301.67 L271 301.67 L271 303.33 L269.33 303.33 L269.33 305 L267.67 305 L267.67 303.33 L266 303.33 L266 301.67 L267.67 301.67Z" fill="#145208" stroke="#fff" stroke-width="0.42"/><path d="M271.67 298 L273.33 298 L273.33 299.67 L275 299.67 L275 301.33 L273.33 301.33 L273.33 303 L271.67 303 L271.67 301.33 L270 301.33 L270 299.67 L271.67 299.67Z" fill="#145208" stroke="#fff" stroke-width="0.42"/><path d="M271.67 306 L273.33 306 L273.33 307.67 L275 307.67 L275 309.33 L273.33 309.33 L273.33 311 L271.67 311 L271.67 309.33 L270 309.33 L270 307.67 L271.67 307.67Z" fill="#145208" stroke="#fff" stroke-width="0.42"/><path d="M276.67 279 L278.33 279 L278.33 280.67 L280 280.67 L280 282.33 L278.33 282.33 L278.33 284 L276.67 284 L276.67 282.33 L275 282.33 L275 280.67 L276.67 280.67Z" fill="#145208" stroke="#fff" stroke-width="0.42"/><path d="M280.67 286 L282.33 286 L282.33 287.67 L284 287.67 L284 289.33 L282.33 289.33 L282.33 291 L280.67 291 L280.67 289.33 L279 289.33 L279 287.67 L280.67 287.67Z" fill="#145208" stroke="#fff" stroke-width="0.42"/><path d="M280.67 307 L282.33 307 L282.33 308.67 L284 308.67 L284 310.33 L282.33 310.33 L282.33 312 L280.67 312 L280.67 310.33 L279 310.33 L279 308.67 L280.67 308.67Z" fill="#145208" stroke="#fff" stroke-width="0.42"/><path d="M284.67 103 L286.33 103 L286.33 104.67 L288 104.67 L288 106.33 L286.33 106.33 L286.33 108 L284.67 108 L284.67 106.33 L283 106.33 L283 104.67 L284.67 104.67Z" fill="#145208" stroke="#fff" stroke-width="0.42"/><path d="M289.67 156 L291.33 156 L291.33 157.67 L293 157.67 L293 159.33 L291.33 159.33 L291.33 161 L289.67 161 L289.67 159.33 L288 159.33 L288 157.67 L289.67 157.67Z" fill="#145208" stroke="#fff" stroke-width="0.42"/><path d="M293.67 302 L295.33 302 L295.33 303.67 L297 303.67 L297 305.33 L295.33 305.33 L295.33 307 L293.67 307 L293.67 305.33 L292 305.33 L292 303.67 L293.67 303.67Z" fill="#145208" stroke="#fff" stroke-width="0.42"/><path d="M293.67 308 L295.33 308 L295.33 309.67 L297 309.67 L297 311.33 L295.33 311.33 L295.33 313 L293.67 313 L293.67 311.33 L292 311.33 L292 309.67 L293.67 309.67Z" fill="#145208" stroke="#fff" stroke-width="0.42"/><path d="M298.67 311 L300.33 311 L300.33 312.67 L302 312.67 L302 314.33 L300.33 314.33 L300.33 316 L298.67 316 L298.67 314.33 L297 314.33 L297 312.67 L298.67 312.67Z" fill="#145208" stroke="#fff" stroke-width="0.42"/><path d="M302.67 245 L304.33 245 L304.33 246.67 L306 246.67 L306 248.33 L304.33 248.33 L304.33 250 L302.67 250 L302.67 248.33 L301 248.33 L301 246.67 L302.67 246.67Z" fill="#145208" stroke="#fff" stroke-width="0.42"/><path d="M302.67 302 L304.33 302 L304.33 303.67 L306 303.67 L306 305.33 L304.33 305.33 L304.33 307 L302.67 307 L302.67 305.33 L301 305.33 L301 303.67 L302.67 303.67Z" fill="#145208" stroke="#fff" stroke-width="0.42"/><path d="M307.67 244 L309.33 244 L309.33 245.67 L311 245.67 L311 247.33 L309.33 247.33 L309.33 249 L307.67 249 L307.67 247.33 L306 247.33 L306 245.67 L307.67 245.67Z" fill="#145208" stroke="#fff" stroke-width="0.42"/><path d="M307.67 309 L309.33 309 L309.33 310.67 L311 310.67 L311 312.33 L309.33 312.33 L309.33 314 L307.67 314 L307.67 312.33 L306 312.33 L306 310.67 L307.67 310.67Z" fill="#145208" stroke="#fff" stroke-width="0.42"/><path d="M311.67 239 L313.33 239 L313.33 240.67 L315 240.67 L315 242.33 L313.33 242.33 L313.33 244 L311.67 244 L311.67 242.33 L310 242.33 L310 240.67 L311.67 240.67Z" fill="#145208" stroke="#fff" stroke-width="0.42"/><path d="M315.67 301 L317.33 301 L317.33 302.67 L319 302.67 L319 304.33 L317.33 304.33 L317.33 306 L315.67 306 L315.67 304.33 L314 304.33 L314 302.67 L315.67 302.67Z" fill="#145208" stroke="#fff" stroke-width="0.42"/><path d="M315.67 304 L317.33 304 L317.33 305.67 L319 305.67 L319 307.33 L317.33 307.33 L317.33 309 L315.67 309 L315.67 307.33 L314 307.33 L314 305.67 L315.67 305.67Z" fill="#145208" stroke="#fff" stroke-width="0.42"/><path d="M320.67 223 L322.33 223 L322.33 224.67 L324 224.67 L324 226.33 L322.33 226.33 L322.33 228 L320.67 228 L320.67 226.33 L319 226.33 L319 224.67 L320.67 224.67Z" fill="#145208" stroke="#fff" stroke-width="0.42"/><path d="M320.67 309 L322.33 309 L322.33 310.67 L324 310.67 L324 312.33 L322.33 312.33 L322.33 314 L320.67 314 L320.67 312.33 L319 312.33 L319 310.67 L320.67 310.67Z" fill="#145208" stroke="#fff" stroke-width="0.42"/><path d="M324.67 300 L326.33 300 L326.33 301.67 L328 301.67 L328 303.33 L326.33 303.33 L326.33 305 L324.67 305 L324.67 303.33 L323 303.33 L323 301.67 L324.67 301.67Z" fill="#145208" stroke="#fff" stroke-width="0.42"/><path d="M324.67 309 L326.33 309 L326.33 310.67 L328 310.67 L328 312.33 L326.33 312.33 L326.33 314 L324.67 314 L324.67 312.33 L323 312.33 L323 310.67 L324.67 310.67Z" fill="#145208" stroke="#fff" stroke-width="0.42"/><path d="M329.67 248 L331.33 248 L331.33 249.67 L333 249.67 L333 251.33 L331.33 251.33 L331.33 253 L329.67 253 L329.67 251.33 L328 251.33 L328 249.67 L329.67 249.67Z" fill="#145208" stroke="#fff" stroke-width="0.42"/><path d="M333.67 104 L335.33 104 L335.33 105.67 L337 105.67 L337 107.33 L335.33 107.33 L335.33 109 L333.67 109 L333.67 107.33 L332 107.33 L332 105.67 L333.67 105.67Z" fill="#145208" stroke="#fff" stroke-width="0.42"/><path d="M338.67 219 L340.33 219 L340.33 220.67 L342 220.67 L342 222.33 L340.33 222.33 L340.33 224 L338.67 224 L338.67 222.33 L337 222.33 L337 220.67 L338.67 220.67Z" fill="#145208" stroke="#fff" stroke-width="0.42"/><path d="M338.67 308 L340.33 308 L340.33 309.67 L342 309.67 L342 311.33 L340.33 311.33 L340.33 313 L338.67 313 L338.67 311.33 L337 311.33 L337 309.67 L338.67 309.67Z" fill="#145208" stroke="#fff" stroke-width="0.42"/><path d="M342.67 219 L344.33 219 L344.33 220.67 L346 220.67 L346 222.33 L344.33 222.33 L344.33 224 L342.67 224 L342.67 222.33 L341 222.33 L341 220.67 L342.67 220.67Z" fill="#145208" stroke="#fff" stroke-width="0.42"/><path d="M346.67 309 L348.33 309 L348.33 310.67 L350 310.67 L350 312.33 L348.33 312.33 L348.33 314 L346.67 314 L346.67 312.33 L345 312.33 L345 310.67 L346.67 310.67Z" fill="#145208" stroke="#fff" stroke-width="0.42"/><path d="M351.67 168 L353.33 168 L353.33 169.67 L355 169.67 L355 171.33 L353.33 171.33 L353.33 173 L351.67 173 L351.67 171.33 L350 171.33 L350 169.67 L351.67 169.67Z" fill="#145208" stroke="#fff" stroke-width="0.42"/><path d="M351.67 309 L353.33 309 L353.33 310.67 L355 310.67 L355 312.33 L353.33 312.33 L353.33 314 L351.67 314 L351.67 312.33 L350 312.33 L350 310.67 L351.67 310.67Z" fill="#145208" stroke="#fff" stroke-width="0.42"/><path d="M355.67 230 L357.33 230 L357.33 231.67 L359 231.67 L359 233.33 L357.33 233.33 L357.33 235 L355.67 235 L355.67 233.33 L354 233.33 L354 231.67 L355.67 231.67Z" fill="#145208" stroke="#fff" stroke-width="0.42"/><path d="M360.67 186 L362.33 186 L362.33 187.67 L364 187.67 L364 189.33 L362.33 189.33 L362.33 191 L360.67 191 L360.67 189.33 L359 189.33 L359 187.67 L360.67 187.67Z" fill="#145208" stroke="#fff" stroke-width="0.42"/><path d="M364.67 246 L366.33 246 L366.33 247.67 L368 247.67 L368 249.33 L366.33 249.33 L366.33 251 L364.67 251 L364.67 249.33 L363 249.33 L363 247.67 L364.67 247.67Z" fill="#145208" stroke="#fff" stroke-width="0.42"/><path d="M364.67 307 L366.33 307 L366.33 308.67 L368 308.67 L368 310.33 L366.33 310.33 L366.33 312 L364.67 312 L364.67 310.33 L363 310.33 L363 308.67 L364.67 308.67Z" fill="#145208" stroke="#fff" stroke-width="0.42"/><path d="M369.67 141 L371.33 141 L371.33 142.67 L373 142.67 L373 144.33 L371.33 144.33 L371.33 146 L369.67 146 L369.67 144.33 L368 144.33 L368 142.67 L369.67 142.67Z" fill="#145208" stroke="#fff" stroke-width="0.42"/><path d="M369.67 306 L371.33 306 L371.33 307.67 L373 307.67 L373 309.33 L371.33 309.33 L371.33 311 L369.67 311 L369.67 309.33 L368 309.33 L368 307.67 L369.67 307.67Z" fill="#145208" stroke="#fff" stroke-width="0.42"/><path d="M373.67 278 L375.33 278 L375.33 279.67 L377 279.67 L377 281.33 L375.33 281.33 L375.33 283 L373.67 283 L373.67 281.33 L372 281.33 L372 279.67 L373.67 279.67Z" fill="#145208" stroke="#fff" stroke-width="0.42"/><path d="M377.67 168 L379.33 168 L379.33 169.67 L381 169.67 L381 171.33 L379.33 171.33 L379.33 173 L377.67 173 L377.67 171.33 L376 171.33 L376 169.67 L377.67 169.67Z" fill="#145208" stroke="#fff" stroke-width="0.42"/><path d="M382.67 121 L384.33 121 L384.33 122.67 L386 122.67 L386 124.33 L384.33 124.33 L384.33 126 L382.67 126 L382.67 124.33 L381 124.33 L381 122.67 L382.67 122.67Z" fill="#145208" stroke="#fff" stroke-width="0.42"/><path d="M382.67 309 L384.33 309 L384.33 310.67 L386 310.67 L386 312.33 L384.33 312.33 L384.33 314 L382.67 314 L382.67 312.33 L381 312.33 L381 310.67 L382.67 310.67Z" fill="#145208" stroke="#fff" stroke-width="0.42"/><path d="M386.67 200 L388.33 200 L388.33 201.67 L390 201.67 L390 203.33 L388.33 203.33 L388.33 205 L386.67 205 L386.67 203.33 L385 203.33 L385 201.67 L386.67 201.67Z" fill="#145208" stroke="#fff" stroke-width="0.42"/><path d="M386.67 309 L388.33 309 L388.33 310.67 L390 310.67 L390 312.33 L388.33 312.33 L388.33 314 L386.67 314 L386.67 312.33 L385 312.33 L385 310.67 L386.67 310.67Z" fill="#145208" stroke="#fff" stroke-width="0.42"/><path d="M391.67 137 L393.33 137 L393.33 138.67 L395 138.67 L395 140.33 L393.33 140.33 L393.33 142 L391.67 142 L391.67 140.33 L390 140.33 L390 138.67 L391.67 138.67Z" fill="#145208" stroke="#fff" stroke-width="0.42"/><path d="M391.67 303 L393.33 303 L393.33 304.67 L395 304.67 L395 306.33 L393.33 306.33 L393.33 308 L391.67 308 L391.67 306.33 L390 306.33 L390 304.67 L391.67 304.67Z" fill="#145208" stroke="#fff" stroke-width="0.42"/><path d="M395.67 131 L397.33 131 L397.33 132.67 L399 132.67 L399 134.33 L397.33 134.33 L397.33 136 L395.67 136 L395.67 134.33 L394 134.33 L394 132.67 L395.67 132.67Z" fill="#145208" stroke="#fff" stroke-width="0.42"/><path d="M395.67 309 L397.33 309 L397.33 310.67 L399 310.67 L399 312.33 L397.33 312.33 L397.33 314 L395.67 314 L395.67 312.33 L394 312.33 L394 310.67 L395.67 310.67Z" fill="#145208" stroke="#fff" stroke-width="0.42"/><path d="M399.67 121 L401.33 121 L401.33 122.67 L403 122.67 L403 124.33 L401.33 124.33 L401.33 126 L399.67 126 L399.67 124.33 L398 124.33 L398 122.67 L399.67 122.67Z" fill="#145208" stroke="#fff" stroke-width="0.42"/><path d="M404.67 305 L406.33 305 L406.33 306.67 L408 306.67 L408 308.33 L406.33 308.33 L406.33 310 L404.67 310 L404.67 308.33 L403 308.33 L403 306.67 L404.67 306.67Z" fill="#145208" stroke="#fff" stroke-width="0.42"/><path d="M404.67 312 L406.33 312 L406.33 313.67 L408 313.67 L408 315.33 L406.33 315.33 L406.33 317 L404.67 317 L404.67 315.33 L403 315.33 L403 313.67 L404.67 313.67Z" fill="#145208" stroke="#fff" stroke-width="0.42"/><path d="M408.67 257 L410.33 257 L410.33 258.67 L412 258.67 L412 260.33 L410.33 260.33 L410.33 262 L408.67 262 L408.67 260.33 L407 260.33 L407 258.67 L408.67 258.67Z" fill="#145208" stroke="#fff" stroke-width="0.42"/><path d="M408.67 304 L410.33 304 L410.33 305.67 L412 305.67 L412 307.33 L410.33 307.33 L410.33 309 L408.67 309 L408.67 307.33 L407 307.33 L407 305.67 L408.67 305.67Z" fill="#145208" stroke="#fff" stroke-width="0.42"/><path d="M408.67 306 L410.33 306 L410.33 307.67 L412 307.67 L412 309.33 L410.33 309.33 L410.33 311 L408.67 311 L408.67 309.33 L407 309.33 L407 307.67 L408.67 307.67Z" fill="#145208" stroke="#fff" stroke-width="0.42"/><path d="M413.67 283 L415.33 283 L415.33 284.67 L417 284.67 L417 286.33 L415.33 286.33 L415.33 288 L413.67 288 L413.67 286.33 L412 286.33 L412 284.67 L413.67 284.67Z" fill="#145208" stroke="#fff" stroke-width="0.42"/><path d="M413.67 305 L415.33 305 L415.33 306.67 L417 306.67 L417 308.33 L415.33 308.33 L415.33 310 L413.67 310 L413.67 308.33 L412 308.33 L412 306.67 L413.67 306.67Z" fill="#145208" stroke="#fff" stroke-width="0.42"/><path d="M413.67 308 L415.33 308 L415.33 309.67 L417 309.67 L417 311.33 L415.33 311.33 L415.33 313 L413.67 313 L413.67 311.33 L412 311.33 L412 309.67 L413.67 309.67Z" fill="#145208" stroke="#fff" stroke-width="0.42"/><path d="M417.67 305 L419.33 305 L419.33 306.67 L421 306.67 L421 308.33 L419.33 308.33 L419.33 310 L417.67 310 L417.67 308.33 L416 308.33 L416 306.67 L417.67 306.67Z" fill="#145208" stroke="#fff" stroke-width="0.42"/><path d="M422.67 281 L424.33 281 L424.33 282.67 L426 282.67 L426 284.33 L424.33 284.33 L424.33 286 L422.67 286 L422.67 284.33 L421 284.33 L421 282.67 L422.67 282.67Z" fill="#145208" stroke="#fff" stroke-width="0.42"/><path d="M422.67 305 L424.33 305 L424.33 306.67 L426 306.67 L426 308.33 L424.33 308.33 L424.33 310 L422.67 310 L422.67 308.33 L421 308.33 L421 306.67 L422.67 306.67Z" fill="#145208" stroke="#fff" stroke-width="0.42"/><path d="M422.67 310 L424.33 310 L424.33 311.67 L426 311.67 L426 313.33 L424.33 313.33 L424.33 315 L422.67 315 L422.67 313.33 L421 313.33 L421 311.67 L422.67 311.67Z" fill="#145208" stroke="#fff" stroke-width="0.42"/><path d="M426.67 82 L428.33 82 L428.33 83.67 L430 83.67 L430 85.33 L428.33 85.33 L428.33 87 L426.67 87 L426.67 85.33 L425 85.33 L425 83.67 L426.67 83.67Z" fill="#145208" stroke="#fff" stroke-width="0.42"/><path d="M426.67 298 L428.33 298 L428.33 299.67 L430 299.67 L430 301.33 L428.33 301.33 L428.33 303 L426.67 303 L426.67 301.33 L425 301.33 L425 299.67 L426.67 299.67Z" fill="#145208" stroke="#fff" stroke-width="0.42"/><path d="M430.67 300 L432.33 300 L432.33 301.67 L434 301.67 L434 303.33 L432.33 303.33 L432.33 305 L430.67 305 L430.67 303.33 L429 303.33 L429 301.67 L430.67 301.67Z" fill="#145208" stroke="#fff" stroke-width="0.42"/><path d="M435.67 288 L437.33 288 L437.33 289.67 L439 289.67 L439 291.33 L437.33 291.33 L437.33 293 L435.67 293 L435.67 291.33 L434 291.33 L434 289.67 L435.67 289.67Z" fill="#145208" stroke="#fff" stroke-width="0.42"/><path d="M435.67 291 L437.33 291 L437.33 292.67 L439 292.67 L439 294.33 L437.33 294.33 L437.33 296 L435.67 296 L435.67 294.33 L434 294.33 L434 292.67 L435.67 292.67Z" fill="#145208" stroke="#fff" stroke-width="0.42"/><path d="M439.67 255 L441.33 255 L441.33 256.67 L443 256.67 L443 258.33 L441.33 258.33 L441.33 260 L439.67 260 L439.67 258.33 L438 258.33 L438 256.67 L439.67 256.67Z" fill="#145208" stroke="#fff" stroke-width="0.42"/><path d="M444.67 280 L446.33 280 L446.33 281.67 L448 281.67 L448 283.33 L446.33 283.33 L446.33 285 L444.67 285 L444.67 283.33 L443 283.33 L443 281.67 L444.67 281.67Z" fill="#145208" stroke="#fff" stroke-width="0.42"/><path d="M444.67 306 L446.33 306 L446.33 307.67 L448 307.67 L448 309.33 L446.33 309.33 L446.33 311 L444.67 311 L444.67 309.33 L443 309.33 L443 307.67 L444.67 307.67Z" fill="#145208" stroke="#fff" stroke-width="0.42"/><path d="M448.67 176 L450.33 176 L450.33 177.67 L452 177.67 L452 179.33 L450.33 179.33 L450.33 181 L448.67 181 L448.67 179.33 L447 179.33 L447 177.67 L448.67 177.67Z" fill="#145208" stroke="#fff" stroke-width="0.42"/><path d="M448.67 299 L450.33 299 L450.33 300.67 L452 300.67 L452 302.33 L450.33 302.33 L450.33 304 L448.67 304 L448.67 302.33 L447 302.33 L447 300.67 L448.67 300.67Z" fill="#145208" stroke="#fff" stroke-width="0.42"/><path d="M448.67 306 L450.33 306 L450.33 307.67 L452 307.67 L452 309.33 L450.33 309.33 L450.33 311 L448.67 311 L448.67 309.33 L447 309.33 L447 307.67 L448.67 307.67Z" fill="#145208" stroke="#fff" stroke-width="0.42"/><path d="M453.67 184 L455.33 184 L455.33 185.67 L457 185.67 L457 187.33 L455.33 187.33 L455.33 189 L453.67 189 L453.67 187.33 L452 187.33 L452 185.67 L453.67 185.67Z" fill="#145208" stroke="#fff" stroke-width="0.42"/><path d="M453.67 307 L455.33 307 L455.33 308.67 L457 308.67 L457 310.33 L455.33 310.33 L455.33 312 L453.67 312 L453.67 310.33 L452 310.33 L452 308.67 L453.67 308.67Z" fill="#145208" stroke="#fff" stroke-width="0.42"/><path d="M457.67 204 L459.33 204 L459.33 205.67 L461 205.67 L461 207.33 L459.33 207.33 L459.33 209 L457.67 209 L457.67 207.33 L456 207.33 L456 205.67 L457.67 205.67Z" fill="#145208" stroke="#fff" stroke-width="0.42"/><path d="M457.67 309 L459.33 309 L459.33 310.67 L461 310.67 L461 312.33 L459.33 312.33 L459.33 314 L457.67 314 L457.67 312.33 L456 312.33 L456 310.67 L457.67 310.67Z" fill="#145208" stroke="#fff" stroke-width="0.42"/><path d="M461.67 292 L463.33 292 L463.33 293.67 L465 293.67 L465 295.33 L463.33 295.33 L463.33 297 L461.67 297 L461.67 295.33 L460 295.33 L460 293.67 L461.67 293.67Z" fill="#145208" stroke="#fff" stroke-width="0.42"/><path d="M466.67 259 L468.33 259 L468.33 260.67 L470 260.67 L470 262.33 L468.33 262.33 L468.33 264 L466.67 264 L466.67 262.33 L465 262.33 L465 260.67 L466.67 260.67Z" fill="#145208" stroke="#fff" stroke-width="0.42"/><path d="M470.67 237 L472.33 237 L472.33 238.67 L474 238.67 L474 240.33 L472.33 240.33 L472.33 242 L470.67 242 L470.67 240.33 L469 240.33 L469 238.67 L470.67 238.67Z" fill="#145208" stroke="#fff" stroke-width="0.42"/><path d="M475.67 147 L477.33 147 L477.33 148.67 L479 148.67 L479 150.33 L477.33 150.33 L477.33 152 L475.67 152 L475.67 150.33 L474 150.33 L474 148.67 L475.67 148.67Z" fill="#145208" stroke="#fff" stroke-width="0.42"/><path d="M475.67 309 L477.33 309 L477.33 310.67 L479 310.67 L479 312.33 L477.33 312.33 L477.33 314 L475.67 314 L475.67 312.33 L474 312.33 L474 310.67 L475.67 310.67Z" fill="#145208" stroke="#fff" stroke-width="0.42"/><path d="M479.67 249 L481.33 249 L481.33 250.67 L483 250.67 L483 252.33 L481.33 252.33 L481.33 254 L479.67 254 L479.67 252.33 L478 252.33 L478 250.67 L479.67 250.67Z" fill="#145208" stroke="#fff" stroke-width="0.42"/><path d="M484.67 302 L486.33 302 L486.33 303.67 L488 303.67 L488 305.33 L486.33 305.33 L486.33 307 L484.67 307 L484.67 305.33 L483 305.33 L483 303.67 L484.67 303.67Z" fill="#145208" stroke="#fff" stroke-width="0.42"/><path d="M484.67 309 L486.33 309 L486.33 310.67 L488 310.67 L488 312.33 L486.33 312.33 L486.33 314 L484.67 314 L484.67 312.33 L483 312.33 L483 310.67 L484.67 310.67Z" fill="#145208" stroke="#fff" stroke-width="0.42"/><path d="M488.67 120 L490.33 120 L490.33 121.67 L492 121.67 L492 123.33 L490.33 123.33 L490.33 125 L488.67 125 L488.67 123.33 L487 123.33 L487 121.67 L488.67 121.67Z" fill="#145208" stroke="#fff" stroke-width="0.42"/><path d="M488.67 297 L490.33 297 L490.33 298.67 L492 298.67 L492 300.33 L490.33 300.33 L490.33 302 L488.67 302 L488.67 300.33 L487 300.33 L487 298.67 L488.67 298.67Z" fill="#145208" stroke="#fff" stroke-width="0.42"/><path d="M492.67 222 L494.33 222 L494.33 223.67 L496 223.67 L496 225.33 L494.33 225.33 L494.33 227 L492.67 227 L492.67 225.33 L491 225.33 L491 223.67 L492.67 223.67Z" fill="#145208" stroke="#fff" stroke-width="0.42"/><path d="M492.67 302 L494.33 302 L494.33 303.67 L496 303.67 L496 305.33 L494.33 305.33 L494.33 307 L492.67 307 L492.67 305.33 L491 305.33 L491 303.67 L492.67 303.67Z" fill="#145208" stroke="#fff" stroke-width="0.42"/><path d="M497.67 106 L499.33 106 L499.33 107.67 L501 107.67 L501 109.33 L499.33 109.33 L499.33 111 L497.67 111 L497.67 109.33 L496 109.33 L496 107.67 L497.67 107.67Z" fill="#145208" stroke="#fff" stroke-width="0.42"/><path d="M497.67 308 L499.33 308 L499.33 309.67 L501 309.67 L501 311.33 L499.33 311.33 L499.33 313 L497.67 313 L497.67 311.33 L496 311.33 L496 309.67 L497.67 309.67Z" fill="#145208" stroke="#fff" stroke-width="0.42"/><path d="M501.67 269 L503.33 269 L503.33 270.67 L505 270.67 L505 272.33 L503.33 272.33 L503.33 274 L501.67 274 L501.67 272.33 L500 272.33 L500 270.67 L501.67 270.67Z" fill="#145208" stroke="#fff" stroke-width="0.42"/><path d="M506.67 258 L508.33 258 L508.33 259.67 L510 259.67 L510 261.33 L508.33 261.33 L508.33 263 L506.67 263 L506.67 261.33 L505 261.33 L505 259.67 L506.67 259.67Z" fill="#145208" stroke="#fff" stroke-width="0.42"/><path d="M506.67 294 L508.33 294 L508.33 295.67 L510 295.67 L510 297.33 L508.33 297.33 L508.33 299 L506.67 299 L506.67 297.33 L505 297.33 L505 295.67 L506.67 295.67Z" fill="#145208" stroke="#fff" stroke-width="0.42"/><path d="M506.67 309 L508.33 309 L508.33 310.67 L510 310.67 L510 312.33 L508.33 312.33 L508.33 314 L506.67 314 L506.67 312.33 L505 312.33 L505 310.67 L506.67 310.67Z" fill="#145208" stroke="#fff" stroke-width="0.42"/><path d="M510.67 128 L512.33 128 L512.33 129.67 L514 129.67 L514 131.33 L512.33 131.33 L512.33 133 L510.67 133 L510.67 131.33 L509 131.33 L509 129.67 L510.67 129.67Z" fill="#145208" stroke="#fff" stroke-width="0.42"/><path d="M510.67 308 L512.33 308 L512.33 309.67 L514 309.67 L514 311.33 L512.33 311.33 L512.33 313 L510.67 313 L510.67 311.33 L509 311.33 L509 309.67 L510.67 309.67Z" fill="#145208" stroke="#fff" stroke-width="0.42"/><path d="M515.67 293 L517.33 293 L517.33 294.67 L519 294.67 L519 296.33 L517.33 296.33 L517.33 298 L515.67 298 L515.67 296.33 L514 296.33 L514 294.67 L515.67 294.67Z" fill="#145208" stroke="#fff" stroke-width="0.42"/><path d="M519.67 245 L521.33 245 L521.33 246.67 L523 246.67 L523 248.33 L521.33 248.33 L521.33 250 L519.67 250 L519.67 248.33 L518 248.33 L518 246.67 L519.67 246.67Z" fill="#145208" stroke="#fff" stroke-width="0.42"/></g>
</g>
<g id="axes">
<rect x="60.5" y="37.5" width="482" height="293" fill="none" stroke="#000" stroke-width="0.9" shape-rendering="crispEdges"/><g stroke="#000" stroke-width="0.9" shape-rendering="crispEdges"><line x1="82.5" y1="330.5" x2="82.5" y2="333.9"/><line x1="170.5" y1="330.5" x2="170.5" y2="333.9"/><line x1="259.5" y1="330.5" x2="259.5" y2="333.9"/><line x1="347.5" y1="330.5" x2="347.5" y2="333.9"/><line x1="436.5" y1="330.5" x2="436.5" y2="333.9"/><line x1="524.5" y1="330.5" x2="524.5" y2="333.9"/><line x1="60.5" y1="317.5" x2="57.1" y2="317.5"/><line x1="60.5" y1="269.5" x2="57.1" y2="269.5"/><line x1="60.5" y1="221.5" x2="57.1" y2="221.5"/><line x1="60.5" y1="173.5" x2="57.1" y2="173.5"/><line x1="60.5" y1="126.5" x2="57.1" y2="126.5"/><line x1="60.5" y1="78.5" x2="57.1" y2="78.5"/></g>
</g>
<g id="labels">
<text x="82.25" y="344.6" text-anchor="middle">0</text><text x="170.79" y="344.6" text-anchor="middle">20</text><text x="259.33" y="344.6" text-anchor="middle">40</text><text x="347.87" y="344.6" text-anchor="middle">60</text><text x="436.41" y="344.6" text-anchor="middle">80</text><text x="524.95" y="344.6" text-anchor="middle">100</text><text x="53.5" y="320.6" text-anchor="end">0</text><text x="53.5" y="272.86" text-anchor="end">5,000</text><text x="53.5" y="225.13" text-anchor="end">10,000</text><text x="53.5" y="177.39" text-anchor="end">15,000</text><text x="53.5" y="129.66" text-anchor="end">20,000</text><text x="53.5" y="81.92" text-anchor="end">25,000</text><text x="301.5" y="357.9" text-anchor="middle">Id</text><text transform="translate(14.2 183.9) rotate(-90)" text-anchor="middle">Time</text><text x="290.6" y="12.1" text-anchor="middle" style="font-size:9.65px">Method</text><text x="170.4" y="26.4" style="font-size:9.65px">HDDMW</text><text x="256.2" y="26.4" style="font-size:9.65px">HDDMA</text><text x="339.4" y="26.4" style="font-size:9.65px">DDM</text><text x="408.7" y="26.4" style="font-size:9.65px">EDDM</text>
</g>
<g id="legend">
<circle cx="152.6" cy="23.4" r="2.87" fill="#c03d1e" stroke="#c03d1e" stroke-width="1.43"/><path d="M237.47 20.53 L238.9 21.97 L240.33 20.53 L241.77 21.97 L240.33 23.4 L241.77 24.83 L240.33 26.27 L238.9 24.83 L237.47 26.27 L236.03 24.83 L237.47 23.4 L236.03 21.97Z" fill="#e1a532" stroke="#e1a532" stroke-width="1.43"/><rect x="319.88" y="21.38" width="4.05" height="4.05" fill="#76ade5" stroke="#76ade5" stroke-width="1.43"/><path d="M390.05 20.53 L391.95 20.53 L391.95 22.45 L393.87 22.45 L393.87 24.35 L391.95 24.35 L391.95 26.27 L390.05 26.27 L390.05 24.35 L388.13 24.35 L388.13 22.45 L390.05 22.45Z" fill="#145208" stroke="#145208" stroke-width="1.43"/>
</g>
</svg>
</body>
</html>
